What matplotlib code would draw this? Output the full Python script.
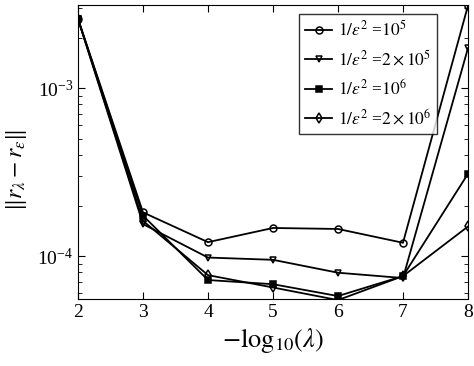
import matplotlib
matplotlib.use("Agg")
import matplotlib.pyplot as plt
import numpy as np

plt.rcParams['font.family'] = ['Liberation Serif', 'DejaVu Serif']
plt.rcParams['mathtext.fontset'] = 'stix'

x = [2, 3, 4, 5, 6, 7, 8]
s1 = [2.58e-3, 1.82e-4, 1.21e-4, 1.47e-4, 1.45e-4, 1.20e-4, 3.1e-3]
s2 = [2.58e-3, 1.55e-4, 9.8e-5, 9.5e-5, 7.96e-5, 7.4e-5, 1.73e-3]
s3 = [2.58e-3, 1.74e-4, 7.2e-5, 6.8e-5, 5.78e-5, 7.6e-5, 3.09e-4]
s4 = [2.58e-3, 1.62e-4, 7.7e-5, 6.5e-5, 5.47e-5, 7.6e-5, 1.5e-4]
labels = [r'$1/\epsilon^2$ =$10^5$', r'$1/\epsilon^2$ =$2\times10^5$',
          r'$1/\epsilon^2$ =$10^6$', r'$1/\epsilon^2$ =$2\times10^6$']
markers = ['o', 'v', 's', 'd']

fig = plt.figure(figsize=(4.74, 3.66), dpi=100)
ax = fig.add_axes([0.1646, 0.183, 0.8227, 0.803])
for s, m, l in zip([s1, s2, s3, s4], markers, labels):
    ms = 5 if m != 's' else 4
    mfc = 'black' if m == 's' else 'none'
    ax.plot(x, s, color='black', lw=1.3, marker=m, ms=ms, mfc=mfc, mec='black', mew=1.1, label=l)
ax.set_yscale('log')
ax.set_xlim(2, 8)
ax.set_ylim(5.55e-5, 3.12e-3)
ax.set_xticks(x)
ax.tick_params(which='both', direction='in', top=True, right=True, labelsize=14)
ax.tick_params(which='major', length=5)
ax.tick_params(which='minor', length=3)
ax.set_xlabel(r'$-\mathrm{log}_{10}(\lambda)$', fontsize=19)
ax.set_ylabel(r'$\|r_\lambda - r_\epsilon\|$', fontsize=17)
ax.yaxis.set_label_coords(-0.125, 0.44)
leg = ax.legend(loc='upper right', bbox_to_anchor=(0.921, 0.97), fontsize=12.5, frameon=True,
                fancybox=False, edgecolor='black', handlelength=1.6, borderpad=0.35,
                labelspacing=0.55, handletextpad=0.3, borderaxespad=0.0)
leg.get_frame().set_linewidth(1.0)
fig.savefig('out.png', dpi=100)
